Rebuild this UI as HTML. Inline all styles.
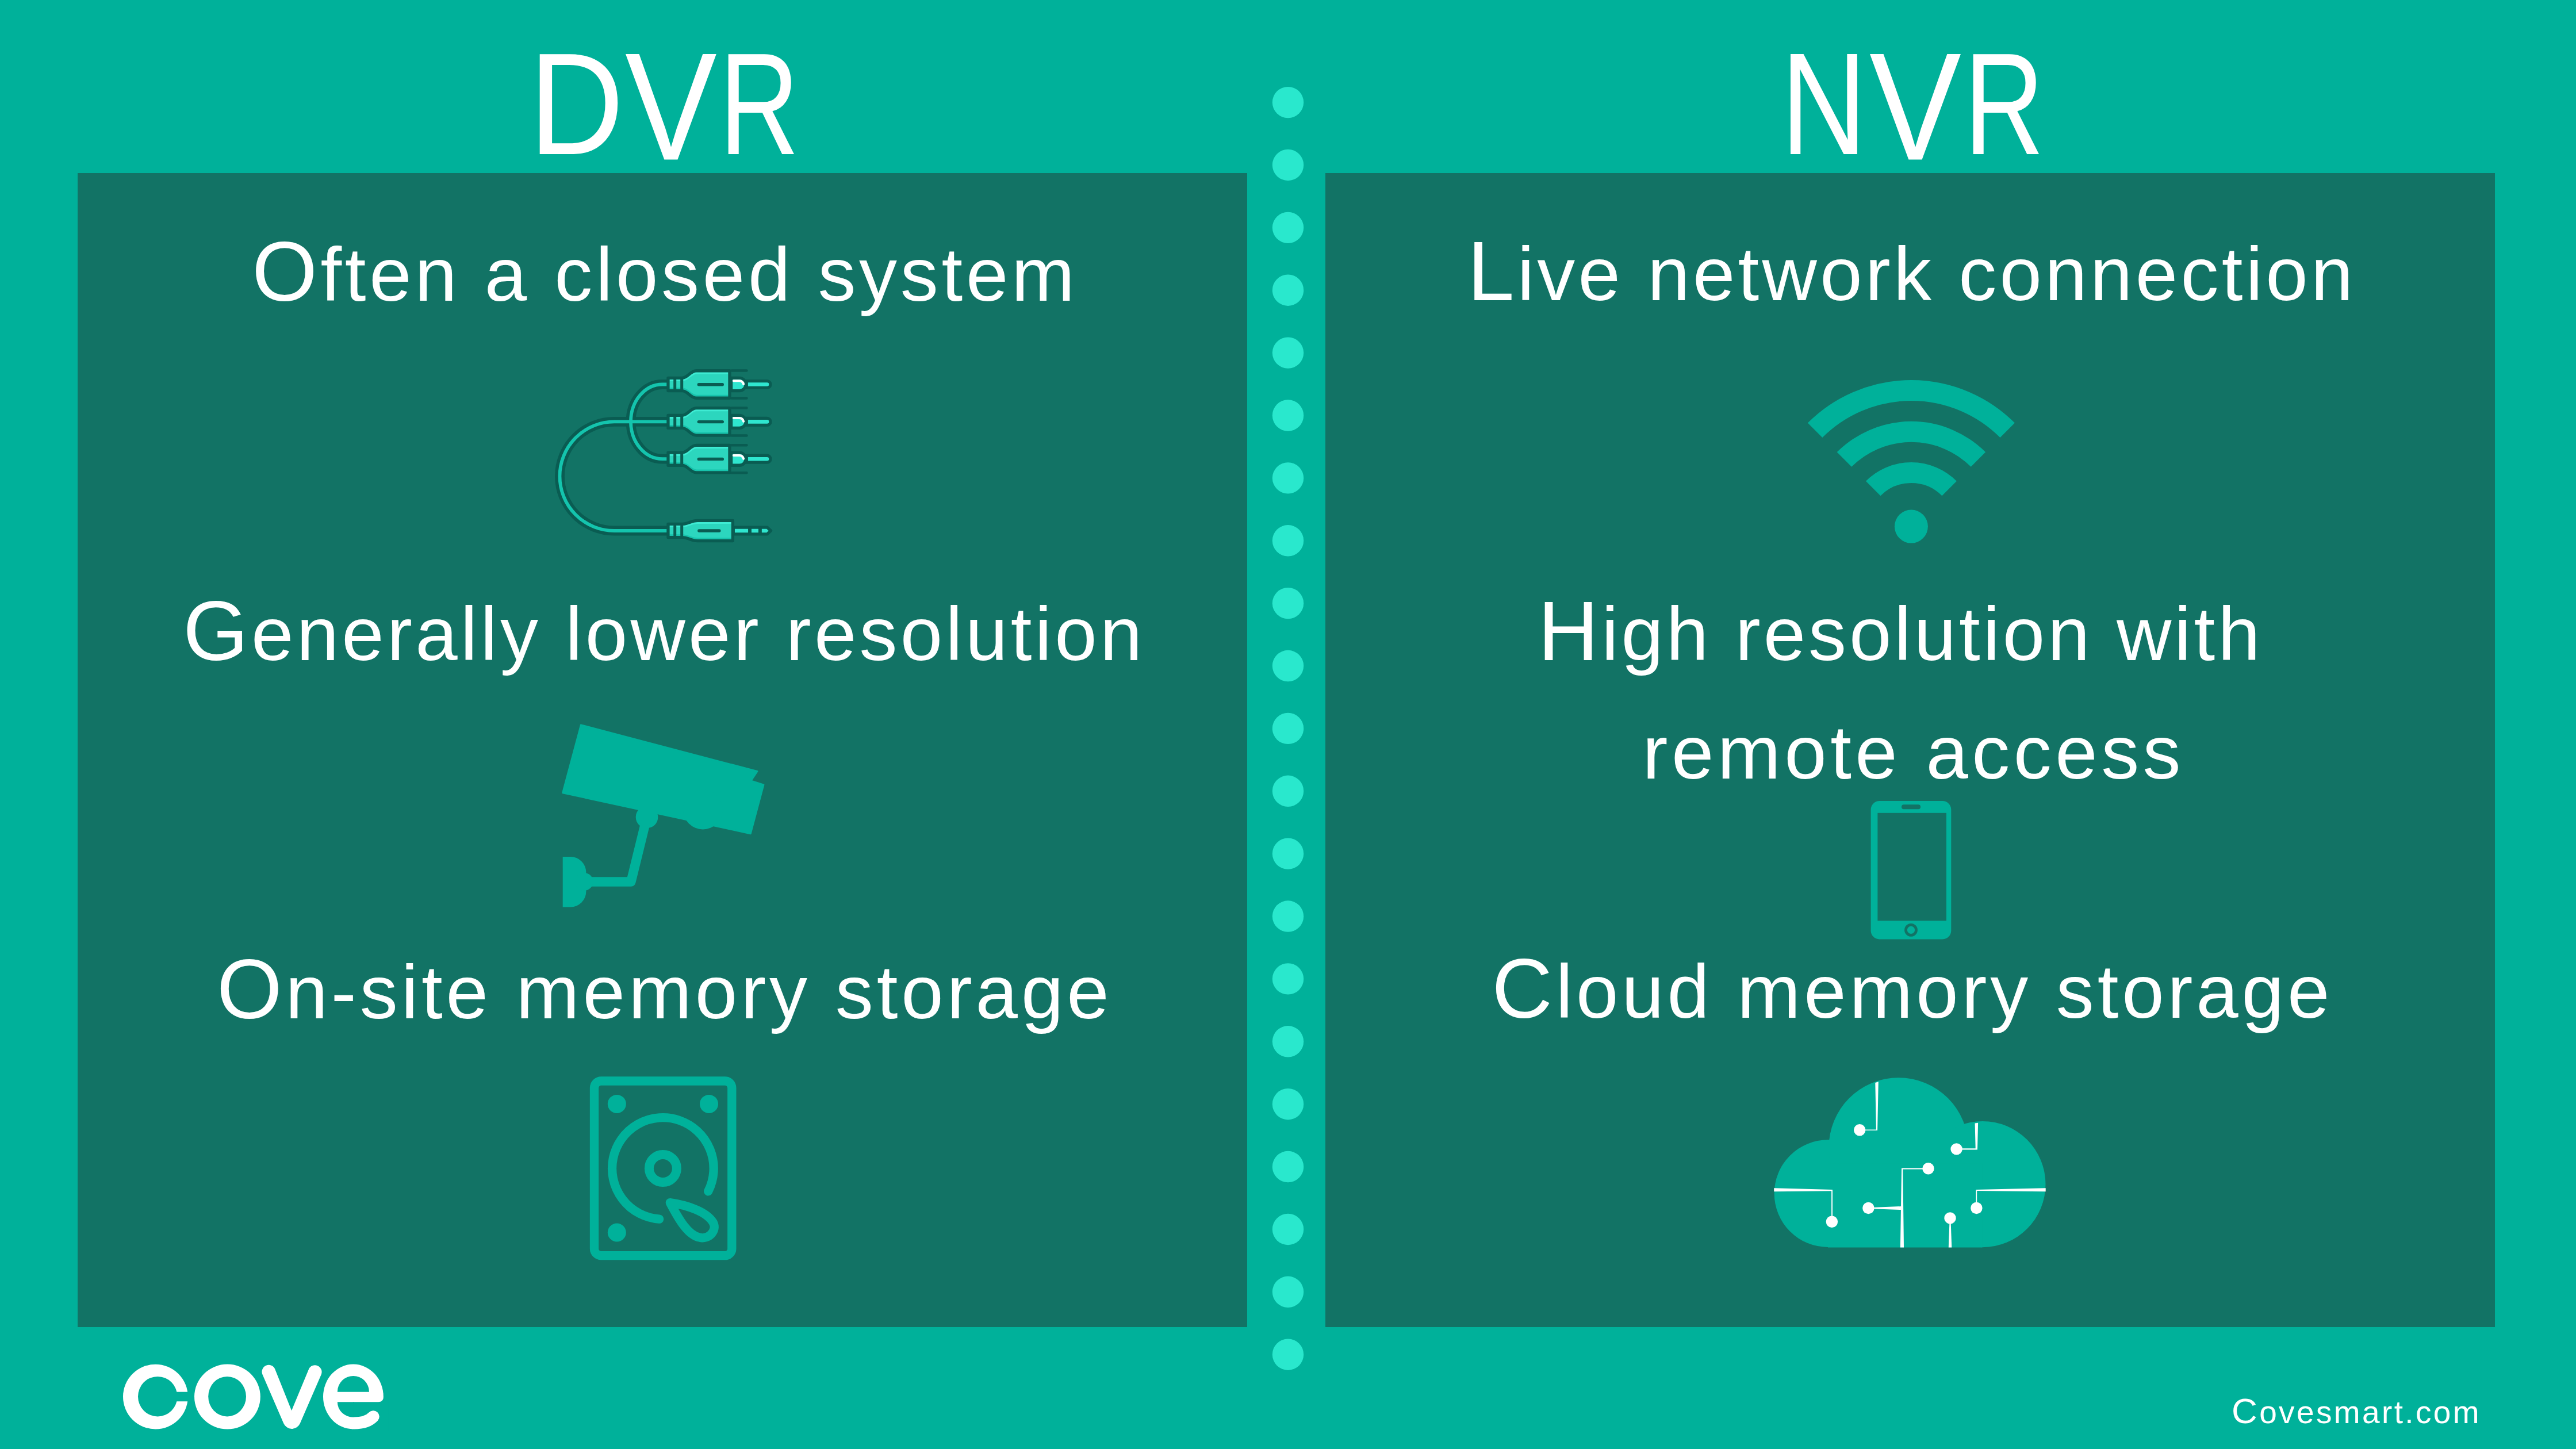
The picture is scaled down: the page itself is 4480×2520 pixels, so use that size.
<!DOCTYPE html>
<html lang="en">
<head>
<meta charset="utf-8">
<title>DVR vs NVR</title>
<style>
  html, body { margin: 0; padding: 0; }
  html { background: #00b19a; }
  body {
    width: 4480px; height: 2520px; overflow: hidden; position: relative;
    background: #00b19a;
    font-family: "Liberation Sans", sans-serif;
    color: #ffffff;
  }
  .panel { position: absolute; top: 301px; height: 2007px; background: #127365; }
  #dvr-panel { left: 135px; width: 2033.5px; }
  #nvr-panel { left: 2305px; width: 2034px; }
  .layer { position: absolute; left: 0; top: 0; }
  h1 { margin: 0; font-size: inherit; font-weight: normal; }
  .t {
    position: absolute; white-space: nowrap; line-height: 1; margin: 0; padding: 0; font-weight: normal;
  }
  #dvr-d { font-size:253px; left:920.00px; top:53.54px; letter-spacing:0.000px; transform: scale(0.9030,1.0000); transform-origin: 0 214.16px; }
  #dvr-v { font-size:253px; left:1086.80px; top:53.54px; letter-spacing:0.000px; transform: scale(0.9469,1.0550); transform-origin: 0 40.16px; }
  #dvr-r { font-size:253px; left:1251.00px; top:53.54px; letter-spacing:0.000px; transform: scale(0.7600,1.0000); transform-origin: 0 214.16px; }
  #nvr-n { font-size:253px; left:3097.40px; top:53.54px; letter-spacing:0.000px; transform: scale(0.8194,1.0000); transform-origin: 0 214.16px; }
  #nvr-v { font-size:253px; left:3251.20px; top:53.54px; letter-spacing:0.000px; transform: scale(0.9480,1.0550); transform-origin: 0 40.16px; }
  #nvr-r { font-size:253px; left:3416.00px; top:53.54px; letter-spacing:0.000px; transform: scale(0.7600,1.0000); transform-origin: 0 214.16px; }
  #l1 { font-size:132px; left:438.20px; top:400.21px; letter-spacing:5.700px; }
  #l1::first-letter { font-size:146px; }
  #l2 { font-size:132px; left:318.20px; top:1024.61px; letter-spacing:5.248px; }
  #l2::first-letter { font-size:146px; }
  #l3 { font-size:132px; left:376.90px; top:1647.91px; letter-spacing:5.962px; }
  #l3::first-letter { font-size:146px; }
  #r1 { font-size:132px; left:2552.20px; top:399.41px; letter-spacing:5.282px; }
  #r1::first-letter { font-size:146px; }
  #r2a { font-size:132px; left:2674.80px; top:1024.51px; letter-spacing:4.937px; }
  #r2a::first-letter { font-size:146px; }
  #r2b { font-size:132px; left:2856.50px; top:1243.26px; letter-spacing:6.483px; }
  #r3 { font-size:132px; left:2594.40px; top:1647.11px; letter-spacing:5.874px; }
  #r3::first-letter { font-size:146px; }
  #site { font-size:55px; left:3881.00px; top:2423.12px; letter-spacing:3.375px; }
  #site::first-letter { font-size:62px; }
</style>
</head>
<body>
  <div class="panel" id="dvr-panel"></div>
  <div class="panel" id="nvr-panel"></div>

  <!-- centre dotted divider -->
  <svg class="layer" width="4480" height="2520" viewBox="0 0 4480 2520">
    <g fill="#29e8cd">
      <circle cx="2240" cy="178.10" r="27.2"/>
      <circle cx="2240" cy="286.98" r="27.2"/>
      <circle cx="2240" cy="395.86" r="27.2"/>
      <circle cx="2240" cy="504.74" r="27.2"/>
      <circle cx="2240" cy="613.62" r="27.2"/>
      <circle cx="2240" cy="722.50" r="27.2"/>
      <circle cx="2240" cy="831.38" r="27.2"/>
      <circle cx="2240" cy="940.26" r="27.2"/>
      <circle cx="2240" cy="1049.14" r="27.2"/>
      <circle cx="2240" cy="1158.02" r="27.2"/>
      <circle cx="2240" cy="1266.90" r="27.2"/>
      <circle cx="2240" cy="1375.78" r="27.2"/>
      <circle cx="2240" cy="1484.66" r="27.2"/>
      <circle cx="2240" cy="1593.54" r="27.2"/>
      <circle cx="2240" cy="1702.42" r="27.2"/>
      <circle cx="2240" cy="1811.30" r="27.2"/>
      <circle cx="2240" cy="1920.18" r="27.2"/>
      <circle cx="2240" cy="2029.06" r="27.2"/>
      <circle cx="2240" cy="2137.94" r="27.2"/>
      <circle cx="2240" cy="2246.82" r="27.2"/>
      <circle cx="2240" cy="2355.70" r="27.2"/>
    </g>
  </svg>

  <h1 id="t-dvr"><span class="t" id="dvr-d">D</span><span class="t" id="dvr-v">V</span><span class="t" id="dvr-r">R</span></h1>
  <h1 id="t-nvr"><span class="t" id="nvr-n">N</span><span class="t" id="nvr-v">V</span><span class="t" id="nvr-r">R</span></h1>

  <p class="t" id="l1">Often a closed system</p>
  <p class="t" id="l2">Generally lower resolution</p>
  <p class="t" id="l3">On-site memory storage</p>

  <p class="t" id="r1">Live network connection</p>
  <p class="t" id="r2a">High resolution with</p>
  <p class="t" id="r2b">remote access</p>
  <p class="t" id="r3">Cloud memory storage</p>

  <!-- icons (page coordinates) -->
  <svg class="layer" width="4480" height="2520" viewBox="0 0 4480 2520">
    <g id="icon-wifi" fill="none" stroke="#00b19a" stroke-width="36">
      <path d="M3257.7 849.4 A93.6 93.6 0 0 1 3390.1 849.4"/>
      <path d="M3207.4 799.1 A164.8 164.8 0 0 1 3440.4 799.1"/>
      <path d="M3156.6 748.3 A236.6 236.6 0 0 1 3491.2 748.3"/>
      <circle cx="3323.9" cy="915.6" r="29" fill="#00b19a" stroke="none"/>
    </g>
    <g id="icon-phone">
      <rect x="3253.6" y="1393.1" width="139.7" height="240.3" rx="15" fill="#00b19a"/>
      <rect x="3265.4" y="1413.8" width="119.6" height="187.5" fill="#127365"/>
      <rect x="3307" y="1399.3" width="33.1" height="7.9" rx="3.9" fill="#127365"/>
      <circle cx="3323.5" cy="1617.4" r="9" fill="none" stroke="#127365" stroke-width="4.8"/>
    </g>
    <g id="icon-hdd" fill="none" stroke="#00b19a" stroke-width="15.3" stroke-linecap="round" stroke-linejoin="round">
      <rect x="1033.5" y="1880" width="239.3" height="303.7" rx="12"/>
      <circle cx="1072.8" cy="1919.9" r="16" fill="#00b19a" stroke="none"/>
      <circle cx="1233" cy="1919.9" r="16" fill="#00b19a" stroke="none"/>
      <circle cx="1072.8" cy="2143.5" r="16" fill="#00b19a" stroke="none"/>
      <path d="M1146.6 2120.1 A88.3 88.3 0 1 1 1231.7 2071.8"/>
      <circle cx="1152.9" cy="2032" r="24" stroke-width="16"/>
      <path d="M1165.3 2091.6 C1192.9 2095.5 1228.8 2106.5 1240.4 2126.4 C1247.6 2140.8 1232.1 2156.0 1216.7 2152.1 C1197.1 2148.5 1181.3 2122.3 1165.3 2091.6 Z"/>
    </g>
    <g id="icon-camera" fill="#00b19a" stroke="#00b19a" stroke-linejoin="round">
      <path stroke-width="3" d="M1010.4 1260.9 L1316.9 1341.5 L1305.9 1358.0 L1327.9 1364.9 L1305.3 1449.7 L978.7 1378.8 Z"/>
      <circle cx="1125.0" cy="1421.0" r="19.3" stroke="none"/>
      <circle cx="1222.4" cy="1408.0" r="34.45" stroke="none"/>
      <path fill="none" stroke-width="16.5" stroke-linecap="butt" d="M1124.2 1424.3 L1097.4 1533.4 L1021.5 1533.4"/>
      <path stroke="none" d="M978.7 1490.0 h13.6 a27 27 0 0 1 27 27 v33.5 a27 27 0 0 1 -27 27 h-13.6 Z"/>
      <circle cx="1016.0" cy="1533.4" r="15.5" stroke="none"/>
    </g>
    <g id="icon-cloud">
      <g fill="#00b19a">
        <circle cx="3179.0" cy="2075.6" r="93.3"/>
        <circle cx="3301.9" cy="1995.6" r="121.4"/>
        <circle cx="3447.9" cy="2059.6" r="109.6"/>
        <rect x="3179.0" y="2023.2" width="268.3" height="146.3"/>
      </g>
      <g fill="#ffffff">
        <circle cx="3234.2" cy="1965.2" r="10.2"/>
        <circle cx="3402.6" cy="1998.4" r="10.2"/>
        <circle cx="3353.5" cy="2032.3" r="10.2"/>
        <circle cx="3249.4" cy="2101.0" r="10.2"/>
        <circle cx="3185.9" cy="2124.8" r="10.2"/>
        <circle cx="3391.5" cy="2118.4" r="10.2"/>
        <circle cx="3437.4" cy="2101.0" r="10.2"/>
        <path d="M3234.2 1964.4 L3262.9 1964.4 L3261.3 1883.0 L3266.8 1881.3 L3265.1 1966.1 L3234.2 1966.1 Z"/>
        <path d="M3402.6 1997.3 L3435.7 1997.3 L3434.6 1953.4 L3440.1 1952.8 L3439.0 1999.5 L3402.6 1999.5 Z"/>
        <path d="M3353.5 2031.5 L3307.1 2031.5 L3304.9 2169.5 L3311.0 2169.5 L3309.3 2033.4 L3353.5 2033.4 Z"/>
        <path d="M3249.4 2100.2 L3306.0 2098.0 L3306.0 2104.1 L3249.4 2101.9 Z"/>
        <path d="M3185.1 2124.8 L3185.1 2071.2 L3085.2 2072.3 L3085.2 2066.2 L3187.0 2069.0 L3187.0 2124.8 Z"/>
        <path d="M3390.7 2118.4 L3388.8 2169.5 L3394.3 2169.5 L3392.4 2118.4 Z"/>
        <path d="M3436.5 2101.0 L3436.5 2069.0 L3557.7 2066.2 L3557.7 2072.3 L3438.2 2070.9 L3438.2 2101.0 Z"/>
      </g>
    </g>
  </svg>
  <!-- RCA / 3.5mm cable icon -->
  <svg class="layer" width="4480" height="2520" viewBox="0 0 4480 2520">
    <defs>
      <g id="rca">
        <path d="M139 -5.95 H174.7 A5.95 5.95 0 0 1 174.7 5.95 H139 Z" fill="#2fe6cf" stroke="#0a5c52" stroke-width="5.3"/>
        <path d="M112.3 -11.05 H126.6 A11.05 11.05 0 0 1 126.6 11.05 H112.3 Z" fill="#2fe6cf" stroke="#0a5c52" stroke-width="5.3"/>
        <path d="M116.5 -6.3 H126.5 Q132.5 -6 133.8 -0.5" fill="none" stroke="#ffffff" stroke-width="4" stroke-linecap="round"/>
        <path d="M2.65 -11.05 H27 C37 -11.05 41 -23.75 52 -23.75 H109.65 V23.75 H52 C41 23.75 37 11.05 27 11.05 H2.65 Z" fill="#2cd6be"/>
        <path d="M5 -7 H27 C38 -7 42 -19.6 52 -19.6 H107" fill="none" stroke="#3eebd3" stroke-width="3"/>
        <path d="M5 7.2 H27 C38 7.2 42 19.8 52 19.8 H107" fill="none" stroke="#17c3ac" stroke-width="3"/>
        <path d="M2.65 -11.05 H27 C37 -11.05 41 -23.75 52 -23.75 H109.65 V23.75 H52 C41 23.75 37 11.05 27 11.05 H2.65 Z" fill="none" stroke="#0a5c52" stroke-width="5.3" stroke-linejoin="round"/>
        <path d="M14.4 -8 V8 M26.4 -8 V8" stroke="#0a5c52" stroke-width="5" stroke-linecap="round"/>
        <path d="M56 0.2 H97" stroke="#0a5c52" stroke-width="5.4" stroke-linecap="round"/>
        <path d="M113 -24 H139.2 M113 24 H139.2" stroke="#0a5c52" stroke-width="4.5" stroke-linecap="round"/>
      </g>
      <g id="jack">
        <path d="M116 -5.9 H175 L181.2 0 L175 5.9 H116 Z" fill="#2fe6cf" stroke="#0a5c52" stroke-width="5.3" stroke-linejoin="round"/>
        <path d="M144.7 -6 V6 M162.6 -6 V6" stroke="#0a5c52" stroke-width="5.9"/>
        <path d="M2.65 -11.6 H27 C38 -11.6 42 -17.6 54 -17.6 H115.1 V17.6 H54 C42 17.6 38 11.6 27 11.6 H2.65 Z" fill="#2cd6be"/>
        <path d="M5 -7.6 H27 C38 -7.6 42 -13.5 54 -13.5 H112.5" fill="none" stroke="#3eebd3" stroke-width="3"/>
        <path d="M5 7.8 H27 C38 7.8 42 13.7 54 13.7 H112.5" fill="none" stroke="#17c3ac" stroke-width="3"/>
        <path d="M2.65 -11.6 H27 C38 -11.6 42 -17.6 54 -17.6 H115.1 V17.6 H54 C42 17.6 38 11.6 27 11.6 H2.65 Z" fill="none" stroke="#0a5c52" stroke-width="5.3" stroke-linejoin="round"/>
        <path d="M14.4 -8 V8 M26.4 -8 V8" stroke="#0a5c52" stroke-width="5" stroke-linecap="round"/>
        <path d="M56.5 0 H91.5" stroke="#0a5c52" stroke-width="5.4" stroke-linecap="round"/>
      </g>
    </defs>
    <g id="icon-cables" fill="none">
      <path d="M1161.3 733.4 H1068.2 A94.8 94.8 0 0 0 1068.2 923.0 H1161.3" stroke="#0a5c52" stroke-width="16.8"/>
      <path d="M1161.3 668.5 H1152 A55 64.85 0 0 0 1152 798.2 H1161.3" stroke="#0a5c52" stroke-width="16.8"/>
      <path d="M1161.3 733.4 H1068.2 A94.8 94.8 0 0 0 1068.2 923.0 H1161.3" stroke="#14c4ad" stroke-width="5.8"/>
      <path d="M1161.3 668.5 H1152 A55 64.85 0 0 0 1152 798.2 H1161.3" stroke="#14c4ad" stroke-width="5.8"/>
      <use href="#rca" x="1159.3" y="668.5"/>
      <use href="#rca" x="1159.3" y="733.4"/>
      <use href="#rca" x="1159.3" y="798.2"/>
      <use href="#jack" x="1159.3" y="923.0"/>
    </g>
  </svg>
  <!-- cove logo -->
  <svg class="layer" id="logo" width="4480" height="2520" viewBox="0 0 4480 2520" role="img" aria-label="cove">
    <title>cove</title>
    <g>
      <circle cx="270.4" cy="2429.1" r="56.4" fill="#ffffff"/>
      <ellipse cx="274.2" cy="2428.7" rx="34.2" ry="34.8" fill="#00b19a"/>
      <rect x="296" y="2420.7" width="40" height="16.5" fill="#00b19a"/>
    </g>
    <g>
      <ellipse cx="395.4" cy="2429.1" rx="57.4" ry="56.5" fill="#ffffff"/>
      <ellipse cx="395.1" cy="2428.7" rx="32.9" ry="34.8" fill="#00b19a"/>
    </g>
    <path d="M456.4 2390.2 A11.8 11.8 0 0 1 478.3 2381.2 L507.1 2453.2 L537.0 2381.2 A11.8 11.8 0 0 1 558.8 2390.2 L521.8 2475.5 A15.5 15.5 0 0 1 493.3 2475.5 Z" fill="#ffffff"/>
    <g>
      <ellipse cx="614.4" cy="2429.0" rx="52.4" ry="56.4" fill="#ffffff"/>
      <path d="M586.8 2420.7 A27.6 27.8 0 0 1 642.0 2420.7 Z" fill="#00b19a"/>
      <path d="M586.8 2438.3 A27.6 26.5 0 0 0 614.4 2464.8 h1.2 V2438.3 Z" fill="#00b19a"/>
      <path d="M614.2 2438.3 H658.0 Q666.1 2438.3 667.7 2428.9 L675.2 2428.9 L675.2 2489.1 L614.2 2489.1 Z" fill="#00b19a"/>
      <path d="M615.5 2475.1 Q638.7 2475.1 649.2 2463.7" fill="none" stroke="#ffffff" stroke-width="21.0" stroke-linecap="round"/>
    </g>
  </svg>

  <p class="t" id="site">Covesmart.com</p>
</body>
</html>
